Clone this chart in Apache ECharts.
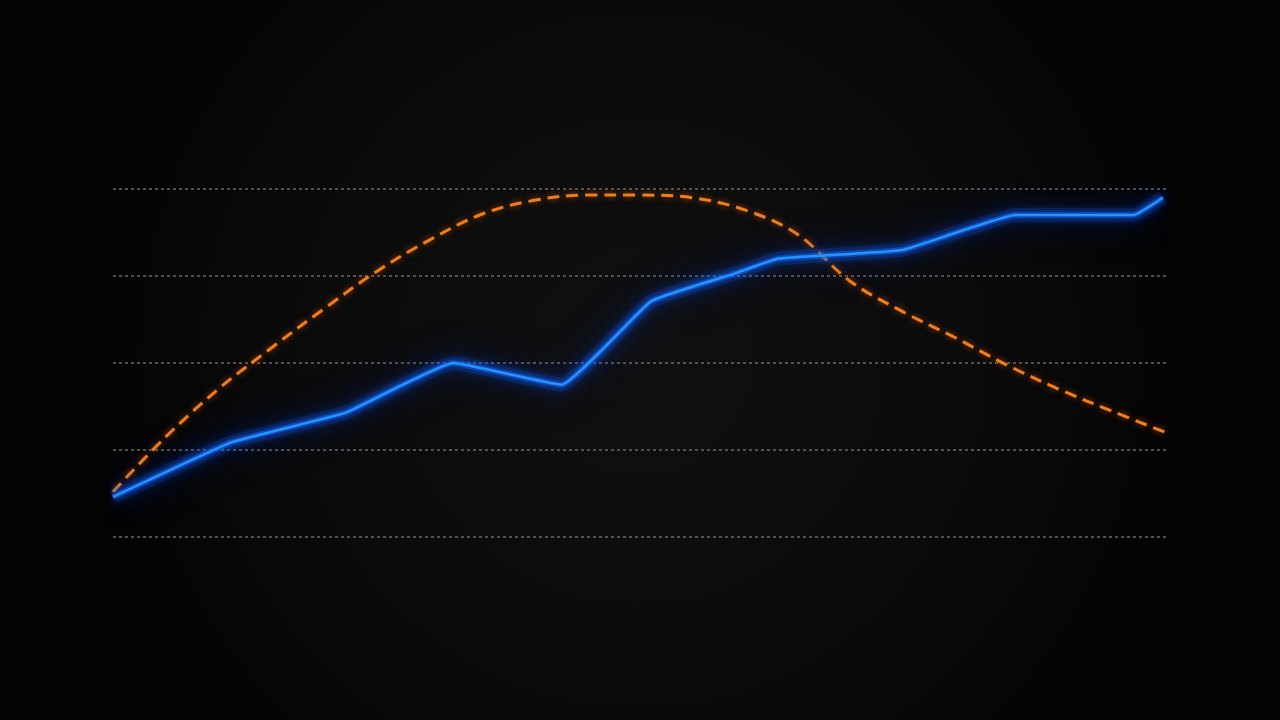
<!DOCTYPE html>
<html>
<head>
<meta charset="utf-8">
<style>
html,body{margin:0;padding:0;width:1280px;height:720px;background:#060606;overflow:hidden;}
#chart{width:1280px;height:720px;}
</style>
<script src="https://cdn.jsdelivr.net/npm/echarts@6/dist/echarts.min.js"></script>
</head>
<body>
<div id="chart"></div>
<script>
// Blue series (solid glowing line)
const blueX = [0, 11.3, 22.1, 32.3, 42.6, 51.1, 59.1, 63.2, 75.0, 85.7, 96.9, 99.7];
const blueY = [0.46, 1.09, 1.43, 2.00, 1.75, 2.71, 3.03, 3.20, 3.30, 3.70, 3.70, 3.90];
// Orange series (dashed smooth curve), sampled every 5 units
const orangeX = [0, 5, 10, 15, 20, 25, 30, 35, 40, 45, 50, 55, 60, 65, 70, 75, 80, 85, 90, 95, 100];
const orangeY = [0.52, 1.15, 1.70, 2.17, 2.62, 3.05, 3.41, 3.71, 3.87, 3.93, 3.93, 3.90, 3.76, 3.48, 2.94, 2.59, 2.29, 1.97, 1.69, 1.44, 1.20];

const blueData = blueX.map((x, i) => [x, blueY[i]]);
const orangeData = orangeX.map((x, i) => [x, orangeY[i]]);

const chart = echarts.init(document.getElementById('chart'));
chart.setOption({
  backgroundColor: {
    type: 'radial', x: 0.5, y: 0.5, r: 0.75,
    colorStops: [
      {offset: 0, color: '#101010'},
      {offset: 0.6, color: '#0b0b0b'},
      {offset: 1, color: '#040404'}
    ]
  },
  animation: false,
  grid: {left: 113, right: 114, top: 189, bottom: 183},
  xAxis: {
    type: 'value', min: 0, max: 100,
    axisLine: {show: false}, axisTick: {show: false}, axisLabel: {show: false},
    splitLine: {show: false}
  },
  yAxis: {
    type: 'value', min: 0, max: 4, interval: 1,
    axisLine: {show: false}, axisTick: {show: false}, axisLabel: {show: false},
    splitLine: {show: true, lineStyle: {color: '#6a6a6a', width: 1.5, type: [3, 3]}}
  },
  series: [
    {
      type: 'line', data: orangeData, smooth: 0.35, showSymbol: false, z: 2,
      lineStyle: {color: '#f47d16', width: 3, type: [12, 7], shadowBlur: 6, shadowColor: 'rgba(255,110,10,0.6)'}
    },
    {
      type: 'line', data: blueData, smooth: 0.1, showSymbol: false, z: 3,
      lineStyle: {color: '#0a50ff', width: 14, opacity: 0.18, shadowBlur: 40, shadowColor: '#0040ff'}
    },
    {
      type: 'line', data: blueData, smooth: 0.1, showSymbol: false, z: 4,
      lineStyle: {color: '#0d6bff', width: 6, opacity: 0.45, shadowBlur: 18, shadowColor: '#0050ff'}
    },
    {
      type: 'line', data: blueData, smooth: 0.1, showSymbol: false, z: 5,
      lineStyle: {color: '#2694ff', width: 2.5, shadowBlur: 8, shadowColor: '#1a70ff'}
    }
  ]
});
</script>
</body>
</html>
